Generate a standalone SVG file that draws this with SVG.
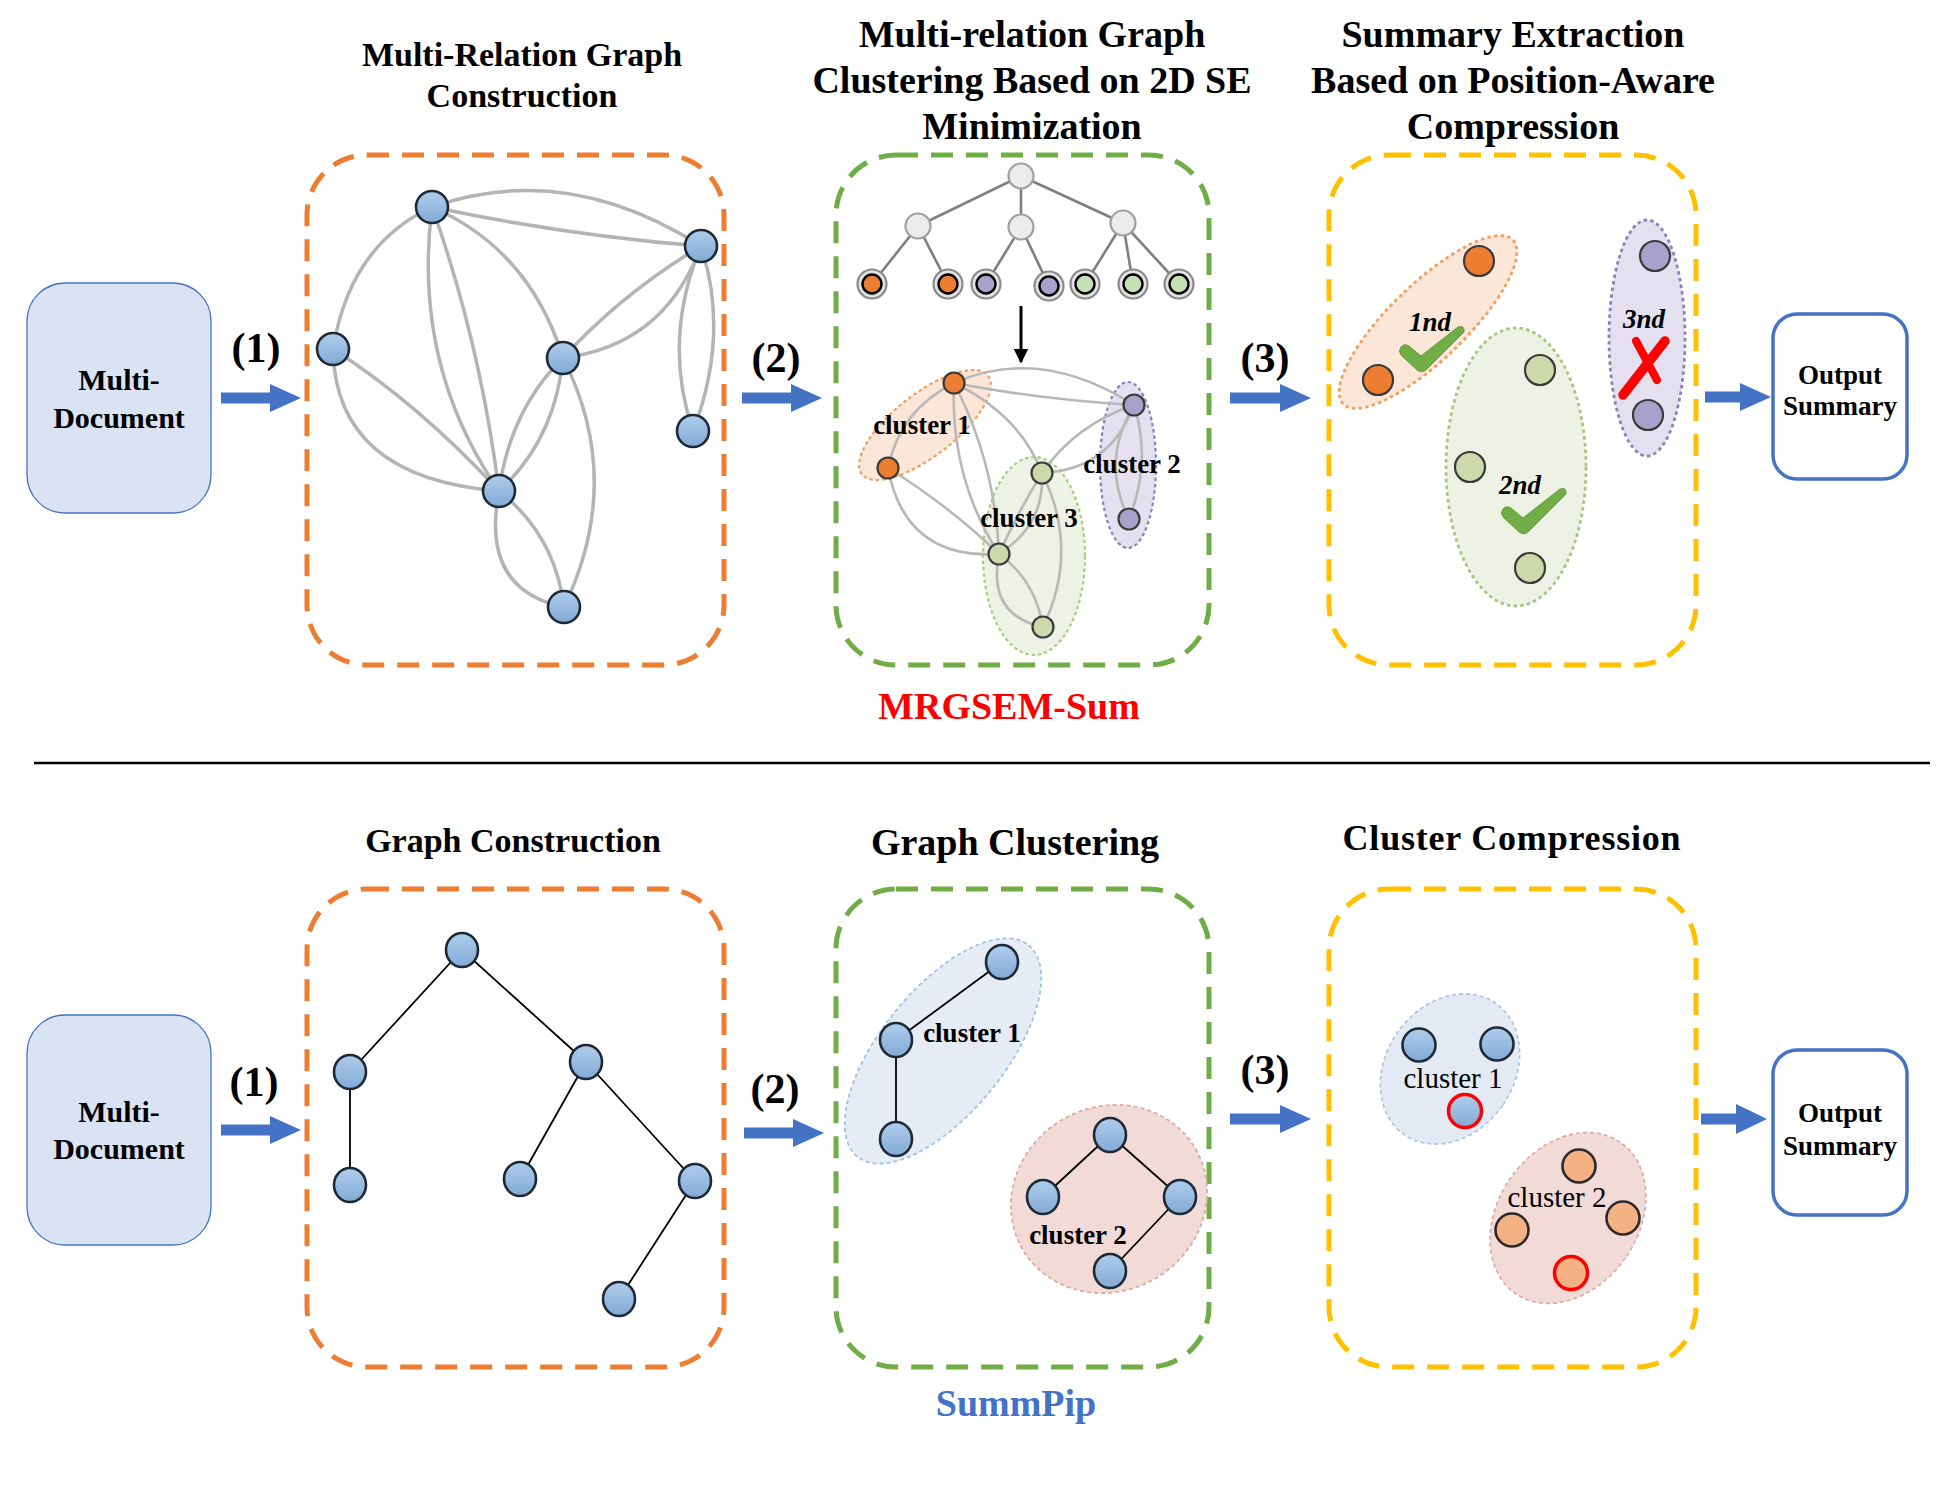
<svg xmlns="http://www.w3.org/2000/svg" width="1948" height="1500" viewBox="0 0 1948 1500">
<defs>
<linearGradient id="gb" x1="0" y1="0" x2="0" y2="1"><stop offset="0" stop-color="#aecdec"/><stop offset="1" stop-color="#82aad5"/></linearGradient>
<marker id="ah" viewBox="0 0 10 10" refX="9" refY="5" markerWidth="5" markerHeight="5" orient="auto"><path d="M0,0 L10,5 L0,10 z" fill="#000"/></marker>
<path id="check" d="M1401,347 Q1404,343 1409,346 L1421,356 L1458,327 Q1465,325 1464,332 L1427,369 Q1422,374 1417,370 L1401,355 Q1398,351 1401,347 Z"/>
<style>
.t{font-family:"Liberation Serif","Times New Roman",serif;font-weight:bold;text-anchor:middle;fill:#000}
.nb{fill:url(#gb);stroke:#1f2935;stroke-width:2.6}
.eg{fill:none;stroke:#b4b4b4;stroke-width:3.5}
.es{fill:none;stroke:#b8b8b8;stroke-width:2.6}
.ek{fill:none;stroke:#000;stroke-width:1.8}
.et{fill:none;stroke:#7f7f7f;stroke-width:2.6}
.bo{fill:none;stroke:#ed7d31;stroke-width:5;stroke-dasharray:22 13}
.bg{fill:none;stroke:#70ad47;stroke-width:5;stroke-dasharray:22 13}
.by{fill:none;stroke:#ffc000;stroke-width:5;stroke-dasharray:22 13}
.arr{fill:#4472c4}
.md{fill:#dae3f3;stroke:#4472c4;stroke-width:1.3}
.out{fill:#fff;stroke:#4472c4;stroke-width:3.5}
.ns{stroke:#3a3a3a;stroke-width:2.2}
.no{fill:#ed7d31}
.np{fill:#a9a1cc}
.ng{fill:#cdd9ab}
.tn{fill:#ececec;stroke:#a0a0a0;stroke-width:2.2}
.lr{fill:#e2e2e2;stroke:#8a8a8a;stroke-width:2.2}
.li{stroke:#000;stroke-width:2.4}
.ck{fill:#70ad47;stroke:#64a03c;stroke-width:1}
.lab{font-size:27px}
</style>
</defs>
<rect width="1948" height="1500" fill="#fff"/>

<!-- ===== TOP ROW ===== -->
<g id="titles-top">
<text class="t" x="522" y="66" font-size="34">Multi-Relation Graph</text>
<text class="t" x="522" y="107" font-size="34">Construction</text>
<text class="t" x="1032" y="47" font-size="38">Multi-relation Graph</text>
<text class="t" x="1032" y="93" font-size="38">Clustering Based on 2D SE</text>
<text class="t" x="1032" y="139" font-size="38">Minimization</text>
<text class="t" x="1513" y="47" font-size="38">Summary Extraction</text>
<text class="t" x="1513" y="93" font-size="38">Based on Position-Aware</text>
<text class="t" x="1513" y="139" font-size="38">Compression</text>
<text class="t" x="1009" y="719" font-size="38" style="fill:#ff0000">MRGSEM-Sum</text>
</g>

<g id="top-input">
<rect class="md" x="27" y="283" width="184" height="230" rx="38"/>
<text class="t" x="119" y="390" font-size="30">Multi-</text>
<text class="t" x="119" y="428" font-size="30">Document</text>
</g>

<g id="top-output">
<rect class="out" x="1773" y="314" width="134" height="165" rx="24"/>
<text class="t" x="1840" y="384" font-size="27">Output</text>
<text class="t" x="1840" y="415" font-size="27">Summary</text>
</g>

<g id="top-stage1">
<rect class="bo" x="307" y="155" width="417" height="510" rx="60"/>
</g>
<g id="top-stage2">
<rect class="bg" x="836" y="155" width="373" height="510" rx="60"/>
</g>
<g id="top-stage3">
<rect class="by" x="1329" y="155" width="367" height="510" rx="60"/>
</g>

<g id="top-arrows">
<polygon class="arr" points="221,392.5 270,392.5 270,384 301,398 270,412 270,403.5 221,403.5"/>
<polygon class="arr" points="742,392.5 791,392.5 791,384 822,398 791,412 791,403.5 742,403.5"/>
<polygon class="arr" points="1230,392.5 1280,392.5 1280,384 1311,398 1280,412 1280,403.5 1230,403.5"/>
<polygon class="arr" points="1705,391.5 1740,391.5 1740,383 1771,397 1740,411 1740,402.5 1705,402.5"/>
<text class="t" x="256" y="362" font-size="42">(1)</text>
<text class="t" x="776" y="372" font-size="42">(2)</text>
<text class="t" x="1265" y="372" font-size="42">(3)</text>
</g>

<!-- stage 1 graph -->
<g id="g1-edges">
<path class="eg" d="M432,207 Q566,160 701,246"/>
<path class="eg" d="M432,207 Q570,236 701,246"/>
<path class="eg" d="M432,207 Q350,245 333,349"/>
<path class="eg" d="M432,207 Q412,365 499,491"/>
<path class="eg" d="M432,207 Q480,342 499,491"/>
<path class="eg" d="M432,207 Q530,250 563,358"/>
<path class="eg" d="M333,349 Q335,478 499,491"/>
<path class="eg" d="M333,349 Q420,405 499,491"/>
<path class="eg" d="M563,358 Q620,295 701,246"/>
<path class="eg" d="M563,358 Q665,345 701,246"/>
<path class="eg" d="M701,246 Q662,340 693,431"/>
<path class="eg" d="M701,246 Q730,335 693,431"/>
<path class="eg" d="M563,358 Q510,410 499,491"/>
<path class="eg" d="M563,358 Q555,440 499,491"/>
<path class="eg" d="M563,358 Q625,480 564,607"/>
<path class="eg" d="M499,491 Q480,590 564,607"/>
<path class="eg" d="M499,491 Q555,535 564,607"/>
</g>
<g id="g1-nA"><circle class="nb" cx="432" cy="207" r="16"/></g>
<g id="g1-nB"><circle class="nb" cx="701" cy="246" r="16"/></g>
<g id="g1-nC"><circle class="nb" cx="333" cy="349" r="16"/></g>
<g id="g1-nD"><circle class="nb" cx="563" cy="358" r="16"/></g>
<g id="g1-nE"><circle class="nb" cx="693" cy="431" r="16"/></g>
<g id="g1-nF"><circle class="nb" cx="499" cy="491" r="16"/></g>
<g id="g1-nG"><circle class="nb" cx="564" cy="607" r="16"/></g>

<!-- stage 2 tree -->
<g id="tree-edges">
<line class="et" x1="1021" y1="176" x2="918" y2="226"/>
<line class="et" x1="1021" y1="176" x2="1021" y2="227"/>
<line class="et" x1="1021" y1="176" x2="1123" y2="223"/>
<line class="et" x1="918" y1="226" x2="872" y2="284"/>
<line class="et" x1="918" y1="226" x2="948" y2="284"/>
<line class="et" x1="1021" y1="227" x2="986" y2="284"/>
<line class="et" x1="1021" y1="227" x2="1049" y2="286"/>
<line class="et" x1="1123" y1="223" x2="1085" y2="284"/>
<line class="et" x1="1123" y1="223" x2="1133" y2="284"/>
<line class="et" x1="1123" y1="223" x2="1179" y2="284"/>
<line x1="1021" y1="306" x2="1021" y2="362" stroke="#000" stroke-width="3" marker-end="url(#ah)"/>
</g>
<g id="tree-root"><circle class="tn" cx="1021" cy="176" r="12.5"/></g>
<g id="tree-m1"><circle class="tn" cx="918" cy="226" r="12.5"/></g>
<g id="tree-m2"><circle class="tn" cx="1021" cy="227" r="12.5"/></g>
<g id="tree-m3"><circle class="tn" cx="1123" cy="223" r="12.5"/></g>
<g id="tree-l1"><circle class="lr" cx="872" cy="284" r="14.5"/><circle class="no li" cx="872" cy="284" r="9.5"/></g>
<g id="tree-l2"><circle class="lr" cx="948" cy="284" r="14.5"/><circle class="no li" cx="948" cy="284" r="9.5"/></g>
<g id="tree-l3"><circle class="lr" cx="986" cy="284" r="14.5"/><circle class="np li" cx="986" cy="284" r="9.5"/></g>
<g id="tree-l4"><circle class="lr" cx="1049" cy="286" r="14.5"/><circle class="np li" cx="1049" cy="286" r="9.5"/></g>
<g id="tree-l5"><circle class="lr" cx="1085" cy="284" r="14.5"/><circle class="li" fill="#c5e0b4" cx="1085" cy="284" r="9.5"/></g>
<g id="tree-l6"><circle class="lr" cx="1133" cy="284" r="14.5"/><circle class="li" fill="#c5e0b4" cx="1133" cy="284" r="9.5"/></g>
<g id="tree-l7"><circle class="lr" cx="1179" cy="284" r="14.5"/><circle class="li" fill="#c5e0b4" cx="1179" cy="284" r="9.5"/></g>

<!-- stage 2 clustered graph -->
<g id="mr-clusters">
<ellipse cx="925" cy="425" rx="80" ry="31" transform="rotate(-38 925 425)" fill="#fbe2d0" fill-opacity="0.85" stroke="#f0a060" stroke-width="2.2" stroke-dasharray="3.5 2.8"/>
<ellipse cx="1128" cy="465" rx="28" ry="83" fill="#e4e0ef" stroke="#8e80b8" stroke-width="2.2" stroke-dasharray="3.5 2.8"/>
<ellipse cx="1034" cy="556" rx="51" ry="99" fill="#eef2e4" stroke="#a8d07c" stroke-width="2.2" stroke-dasharray="3.5 2.8"/>
</g>
<g id="mr-edges">
<path class="es" d="M954,383 Q1040,345 1134,405"/>
<path class="es" d="M954,383 Q1044,400 1134,405"/>
<path class="es" d="M954,383 Q900,410 888,468"/>
<path class="es" d="M954,383 Q950,478 999,554"/>
<path class="es" d="M954,383 Q995,462 999,554"/>
<path class="es" d="M954,383 Q1020,415 1042,473"/>
<path class="es" d="M888,468 Q905,560 999,554"/>
<path class="es" d="M888,468 Q948,505 999,554"/>
<path class="es" d="M1042,473 Q1075,425 1134,405"/>
<path class="es" d="M1042,473 Q1110,470 1134,405"/>
<path class="es" d="M1134,405 Q1100,462 1129,519"/>
<path class="es" d="M1134,405 Q1152,462 1129,519"/>
<path class="es" d="M1042,473 Q1018,512 999,554"/>
<path class="es" d="M1042,473 Q1045,525 999,554"/>
<path class="es" d="M1042,473 Q1080,550 1043,627"/>
<path class="es" d="M999,554 Q987,615 1043,627"/>
<path class="es" d="M999,554 Q1035,580 1043,627"/>
</g>
<g id="mr-o1"><circle class="no ns" cx="954" cy="383" r="10.5"/></g>
<g id="mr-o2"><circle class="no ns" cx="888" cy="468" r="10.5"/></g>
<g id="mr-p1"><circle class="np ns" cx="1134" cy="405" r="10.5"/></g>
<g id="mr-p2"><circle class="np ns" cx="1129" cy="519" r="10.5"/></g>
<g id="mr-g1"><circle class="ng ns" cx="1042" cy="473" r="10.5"/></g>
<g id="mr-g2"><circle class="ng ns" cx="999" cy="554" r="10.5"/></g>
<g id="mr-g3"><circle class="ng ns" cx="1043" cy="627" r="10.5"/></g>
<g id="mr-labels">
<text class="t lab" x="922" y="434">cluster 1</text>
<text class="t lab" x="1132" y="473">cluster 2</text>
<text class="t lab" x="1029" y="527">cluster 3</text>
</g>

<!-- stage 3 top -->
<g id="se-cluster1">
<ellipse cx="1428" cy="322" rx="118" ry="38" transform="rotate(-44 1428 322)" fill="#fbe2d0" fill-opacity="0.85" stroke="#f0a060" stroke-width="2.8" stroke-dasharray="3.5 3.2"/>
<circle class="no ns" cx="1479" cy="261" r="15" stroke-width="2.6"/>
<circle class="no ns" cx="1378" cy="380" r="15" stroke-width="2.6"/>
<text class="t" x="1430" y="331" font-size="27" font-style="italic">1nd</text>
<use href="#check" class="ck"/>
</g>
<g id="se-cluster2">
<ellipse cx="1516" cy="467" rx="70" ry="139" fill="#eef2e4" stroke="#a9c47f" stroke-width="2.8" stroke-dasharray="3.5 3.2"/>
<circle class="ng ns" cx="1540" cy="370" r="15" stroke-width="2.6"/>
<circle class="ng ns" cx="1470" cy="467" r="15" stroke-width="2.6"/>
<circle class="ng ns" cx="1530" cy="568" r="15" stroke-width="2.6"/>
<text class="t" x="1520" y="494" font-size="27" font-style="italic">2nd</text>
<use href="#check" class="ck" transform="translate(102 162)"/>
</g>
<g id="se-cluster3">
<ellipse cx="1647" cy="338" rx="38" ry="118" fill="#e4e0ef" stroke="#8e80b8" stroke-width="2.8" stroke-dasharray="3.5 3.2"/>
<circle class="np ns" cx="1655" cy="256" r="15" stroke-width="2.6"/>
<circle class="np ns" cx="1648" cy="415" r="15" stroke-width="2.6"/>
<text class="t" x="1644" y="328" font-size="27" font-style="italic">3nd</text>
<path d="M1665,341 L1623,395" fill="none" stroke="#ff0000" stroke-width="9.5" stroke-linecap="round"/>
<path d="M1636,341 L1657,380" fill="none" stroke="#ff0000" stroke-width="8" stroke-linecap="round"/>
</g>

<!-- separator -->
<line x1="34" y1="763" x2="1930" y2="763" stroke="#000" stroke-width="2.5"/>

<!-- ===== BOTTOM ROW ===== -->
<g id="titles-bottom">
<text class="t" x="513" y="852" font-size="34">Graph Construction</text>
<text class="t" x="1015" y="855" font-size="38">Graph Clustering</text>
<text class="t" x="1512" y="850" font-size="36" letter-spacing="0.8">Cluster Compression</text>
<text class="t" x="1016" y="1416" font-size="38" style="fill:#4472c4">SummPip</text>
</g>

<g id="bot-input">
<rect class="md" x="27" y="1015" width="184" height="230" rx="38"/>
<text class="t" x="119" y="1122" font-size="30">Multi-</text>
<text class="t" x="119" y="1159" font-size="30">Document</text>
</g>

<g id="bot-output">
<rect class="out" x="1773" y="1050" width="134" height="165" rx="24"/>
<text class="t" x="1840" y="1122" font-size="27">Output</text>
<text class="t" x="1840" y="1155" font-size="27">Summary</text>
</g>

<g id="bot-stage1"><rect class="bo" x="307" y="889" width="417" height="478" rx="60"/></g>
<g id="bot-stage2"><rect class="bg" x="836" y="889" width="373" height="478" rx="60"/></g>
<g id="bot-stage3"><rect class="by" x="1329" y="889" width="367" height="478" rx="60"/></g>

<g id="bot-arrows">
<polygon class="arr" points="221,1124.5 270,1124.5 270,1116 301,1130 270,1144 270,1135.5 221,1135.5"/>
<polygon class="arr" points="744,1127.5 793,1127.5 793,1119 824,1133 793,1147 793,1138.5 744,1138.5"/>
<polygon class="arr" points="1230,1113.5 1280,1113.5 1280,1105 1311,1119 1280,1133 1280,1124.5 1230,1124.5"/>
<polygon class="arr" points="1701,1113.5 1736,1113.5 1736,1104 1767,1119 1736,1134 1736,1124.5 1701,1124.5"/>
<text class="t" x="254" y="1096" font-size="42">(1)</text>
<text class="t" x="775" y="1103" font-size="42">(2)</text>
<text class="t" x="1265" y="1084" font-size="42">(3)</text>
</g>

<!-- bottom stage 1 tree -->
<g id="bt-edges">
<line class="ek" x1="462" y1="950" x2="350" y2="1072"/>
<line class="ek" x1="462" y1="950" x2="586" y2="1062"/>
<line class="ek" x1="350" y1="1072" x2="350" y2="1185"/>
<line class="ek" x1="586" y1="1062" x2="520" y2="1179"/>
<line class="ek" x1="586" y1="1062" x2="695" y2="1181"/>
<line class="ek" x1="695" y1="1181" x2="619" y2="1299"/>
</g>
<g id="bt-n1"><ellipse class="nb" cx="462" cy="950" rx="16" ry="17"/></g>
<g id="bt-n2"><ellipse class="nb" cx="350" cy="1072" rx="16" ry="17"/></g>
<g id="bt-n3"><ellipse class="nb" cx="350" cy="1185" rx="16" ry="17"/></g>
<g id="bt-n4"><ellipse class="nb" cx="586" cy="1062" rx="16" ry="17"/></g>
<g id="bt-n5"><ellipse class="nb" cx="520" cy="1179" rx="16" ry="17"/></g>
<g id="bt-n6"><ellipse class="nb" cx="695" cy="1181" rx="16" ry="17"/></g>
<g id="bt-n7"><ellipse class="nb" cx="619" cy="1299" rx="16" ry="17"/></g>

<!-- bottom stage 2 clusters -->
<g id="gc-clusters">
<ellipse cx="943" cy="1051" rx="136" ry="62" transform="rotate(-51 943 1051)" fill="#e6ecf5" stroke="#9dc3e6" stroke-width="1.8" stroke-dasharray="4 3"/>
<ellipse cx="1109" cy="1199" rx="100" ry="92" transform="rotate(-30 1109 1199)" fill="#f2dad7" stroke="#dda9a5" stroke-width="1.8" stroke-dasharray="4 3"/>
</g>
<g id="gc-edges">
<line class="ek" x1="1002" y1="962" x2="896" y2="1040"/>
<line class="ek" x1="896" y1="1040" x2="896" y2="1139"/>
<line class="ek" x1="1110" y1="1135" x2="1043" y2="1197"/>
<line class="ek" x1="1110" y1="1135" x2="1180" y2="1197"/>
<line class="ek" x1="1180" y1="1197" x2="1110" y2="1271"/>
</g>
<g id="gc-a1"><ellipse class="nb" cx="1002" cy="962" rx="16" ry="17"/></g>
<g id="gc-a2"><ellipse class="nb" cx="896" cy="1040" rx="16" ry="17"/></g>
<g id="gc-a3"><ellipse class="nb" cx="896" cy="1139" rx="16" ry="17"/></g>
<g id="gc-b1"><ellipse class="nb" cx="1110" cy="1135" rx="16" ry="17"/></g>
<g id="gc-b2"><ellipse class="nb" cx="1043" cy="1197" rx="16" ry="17"/></g>
<g id="gc-b3"><ellipse class="nb" cx="1180" cy="1197" rx="16" ry="17"/></g>
<g id="gc-b4"><ellipse class="nb" cx="1110" cy="1271" rx="16" ry="17"/></g>
<g id="gc-labels">
<text class="t lab" x="972" y="1042">cluster 1</text>
<text class="t lab" x="1078" y="1244">cluster 2</text>
</g>

<!-- bottom stage 3 -->
<g id="cc-cluster1">
<ellipse cx="1450" cy="1069" rx="64" ry="80" transform="rotate(35 1450 1069)" fill="#e3eaf4" stroke="#a9c4e2" stroke-width="1.6" stroke-dasharray="4 3"/>
<circle class="nb" cx="1419" cy="1045" r="16.5"/>
<circle class="nb" cx="1497" cy="1044" r="16.5"/>
<circle class="nb" cx="1465" cy="1111" r="16.5" style="stroke:#ff0000;stroke-width:3.5"/>
<text x="1453" y="1088" font-family="Liberation Serif, Times New Roman, serif" font-size="29" text-anchor="middle">cluster 1</text>
</g>
<g id="cc-cluster2">
<ellipse cx="1568" cy="1218" rx="70" ry="92" transform="rotate(35 1568 1218)" fill="#f2dad7" stroke="#dba9a5" stroke-width="1.6" stroke-dasharray="4 3"/>
<circle fill="#f4b183" stroke="#2a2a2a" stroke-width="2.6" cx="1579" cy="1166" r="16.5"/>
<circle fill="#f4b183" stroke="#2a2a2a" stroke-width="2.6" cx="1512" cy="1230" r="16.5"/>
<circle fill="#f4b183" stroke="#2a2a2a" stroke-width="2.6" cx="1623" cy="1218" r="16.5"/>
<circle fill="#f4b183" stroke="#ff0000" stroke-width="3.5" cx="1571" cy="1273" r="16.5"/>
<text x="1557" y="1207" font-family="Liberation Serif, Times New Roman, serif" font-size="29" text-anchor="middle">cluster 2</text>
</g>
</svg>
